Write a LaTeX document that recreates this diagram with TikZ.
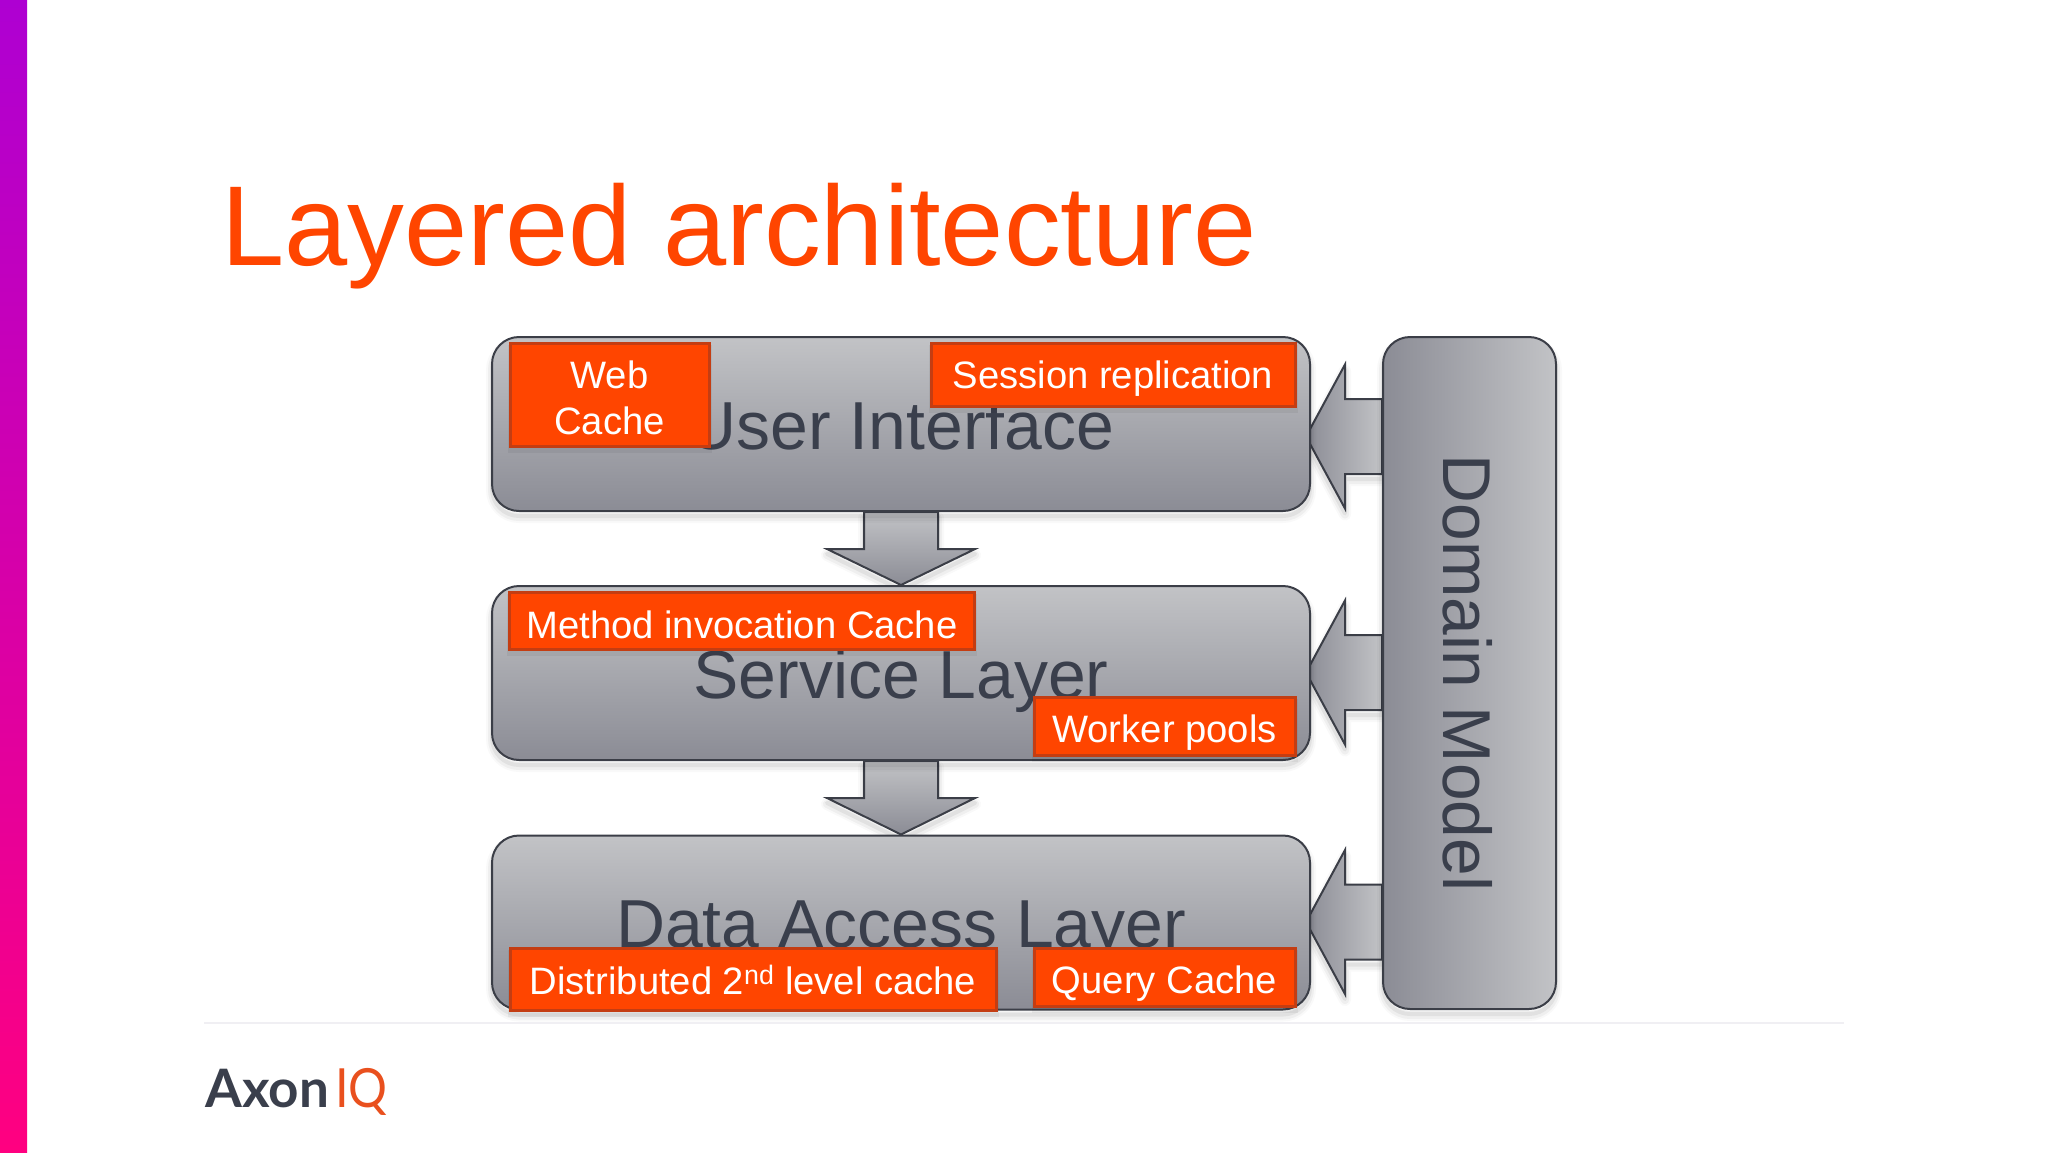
\documentclass[tikz,border=0pt]{standalone}
\usepackage{fontspec}
\setmainfont{Liberation Sans}
\newfontfamily\logofont{Lato}
\usetikzlibrary{calc}
\definecolor{inkdark}{HTML}{3A3F4C}
\definecolor{boxlight}{HTML}{C2C3C6}
\definecolor{boxdark}{HTML}{8B8C95}
\definecolor{edgedark}{HTML}{3B3E47}
\definecolor{orangefill}{HTML}{FF4500}
\definecolor{orangeedge}{HTML}{C43D12}
\definecolor{titleorange}{HTML}{FF4500}
\definecolor{logoorange}{HTML}{E9501E}
\definecolor{barTop}{HTML}{AE00D2}
\definecolor{barBottom}{HTML}{FF0080}
\definecolor{footline}{HTML}{F0EFF3}
\pgfdeclarelayer{under}
\pgfsetlayers{under,main}
\tikzset{
  softshadow/.style={
     preaction={draw=black,draw opacity=.025,line width=12pt,line join=round,fill=none,transform canvas={yshift=-6pt}},
     preaction={draw=black,draw opacity=.04,line width=8pt,line join=round,fill=none,transform canvas={yshift=-6pt}},
     preaction={draw=black,draw opacity=.06,line width=4pt,line join=round,fill=none,transform canvas={yshift=-5pt}}},
  layerbox/.style={draw=edgedark,line width=2pt,rounded corners=27pt,top color=boxlight,bottom color=boxdark,
     minimum width=818pt,minimum height=174pt,inner sep=0pt,text=inkdark,
     font=\fontsize{67.9pt}{80pt}\selectfont,text height=52pt,text depth=2pt,softshadow},
  domainbox/.style={draw=edgedark,line width=2pt,rounded corners=27pt,left color=boxdark,right color=boxlight,
     minimum width=672pt,minimum height=173pt,inner sep=0pt,text=inkdark,rotate=-90,
     font=\fontsize{67.7pt}{80pt}\selectfont,text height=54pt,text depth=1pt,softshadow},
  tagbase/.style={draw=orangeedge,fill=orangefill,line width=3pt,inner sep=0pt,text=white,align=center,
     font=\fontsize{38.2pt}{46pt}\selectfont,
     preaction={draw=black,draw opacity=.05,line width=5pt,fill=none,transform canvas={yshift=-4pt}}},
  tag/.style={tagbase,text height=#1,text depth=8pt},
  tag/.default=35pt,
  blockv/.style={draw=edgedark,line width=2pt,line join=miter,top color=boxlight,bottom color=boxdark,softshadow},
  blockh/.style={draw=edgedark,line width=2pt,line join=miter,left color=boxdark,right color=boxlight,softshadow},
}
% down block arrow between two boxes
\newcommand{\blockdown}[2]{%
  \draw[blockv] ($(#1.south)+(-37,0)$) -- ($(#1.south)+(-37,37)$) -- ($(#1.south)+(-74,37)$)
     -- (#2.north) -- ($(#1.south)+(74,37)$) -- ($(#1.south)+(37,37)$) -- ($(#1.south)+(37,0)$) -- cycle;}
% left block arrow; #1 box, #2 source box, #3 y offset of the arrow axis
\newcommand{\blockleft}[3]{%
  \draw[blockh] ($(#1.east)+(-5,#3)$) -- ($(#1.east)+(34,#3-72)$) -- ($(#1.east)+(34,#3-37.5)$)
    -- ($(#2.south |- #1.east)+(0,#3-37.5)$) -- ($(#2.south |- #1.east)+(0,#3+37.5)$)
    -- ($(#1.east)+(34,#3+37.5)$) -- ($(#1.east)+(34,#3+72)$) -- cycle;}
\begin{document}
\begin{tikzpicture}[x=1pt,y=-1pt]
\useasboundingbox (0,0) rectangle (2048,1152);
\shade[top color=barTop,bottom color=barBottom] (0,0) rectangle (27,1152);
\draw[footline,line width=1.5pt] (204,1023) -- (1844,1023);

\node[anchor=base west,inner sep=0pt,text=titleorange,font=\fontsize{113.6pt}{130pt}\selectfont] (title) at (221,265) {Layered architecture};

\node[layerbox] (ui) at (901,424) {User Interface};
\node[layerbox] (svc) at (901,673) {Service Layer};
\node[layerbox] (dal) at (901,922.5) {Data Access Layer};
\node[domainbox] (dm) at (1469.5,673) {Domain Model};

\begin{pgfonlayer}{under}
\blockdown{ui}{svc}
\blockdown{svc}{dal}
\blockleft{ui}{dm}{12.5}
\blockleft{svc}{dm}{-0.5}
\blockleft{dal}{dm}{-0.5}
\end{pgfonlayer}

\node[tagbase,minimum width=199pt,minimum height=103pt] (web) at (609.5,394.5) {\rule{0pt}{34pt}Web\\Cache};
\node[tag,minimum width=364pt,minimum height=63pt] (sess) at (1113,374.5) {Session replication};
\node[tag=43pt,minimum width=465pt,minimum height=57pt] (meth) at (742,620.5) {Method invocation Cache};
\node[tag=40pt,minimum width=261pt,minimum height=58pt] (work) at (1164.5,726) {Worker pools};
\node[tag=38pt,minimum width=486pt,minimum height=62pt] (dist) at (753,979) {Distributed 2\textsuperscript{nd} level cache};
\node[tag=40pt,minimum width=261pt,minimum height=58pt] (query) at (1164.5,977) {Query Cache};

\node[anchor=base west,inner sep=0pt,text=inkdark,font=\logofont\bfseries\fontsize{53pt}{60pt}\selectfont] (axon) at (205,1107) {Axon};
\node[anchor=base west,inner sep=0pt,text=logoorange,font=\logofont\fontsize{54pt}{60pt}\selectfont,xshift=6pt] (iq) at (axon.base east) {\scalebox{0.9}[1]{IQ}};
\end{tikzpicture}
\end{document}
